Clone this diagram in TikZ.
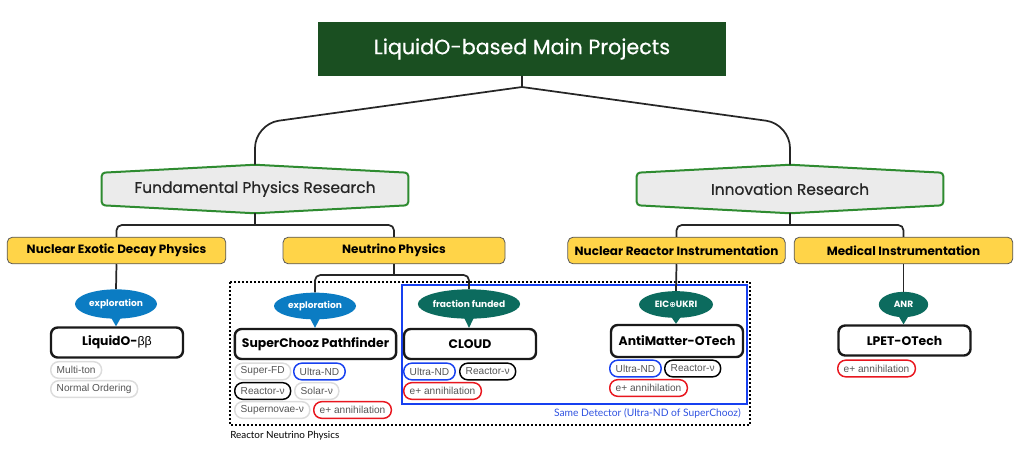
\documentclass[tikz,border=0pt]{standalone}
\usepackage{fontspec}
\setmainfont{Liberation Sans}
\newfontfamily\popfont{Poppins}
\newfontfamily\popmed[FakeBold=0.6]{Poppins}
\newfontfamily\latofont{Lato}
\newfontfamily\dejafont{DejaVu Sans}
\usetikzlibrary{positioning,shapes.geometric,backgrounds}
\definecolor{titlegreen}{HTML}{1A4F21}
\definecolor{hexgreen}{HTML}{2E8B30}
\definecolor{hexgray}{HTML}{EBEBEB}
\definecolor{catyellow}{HTML}{FFD448}
\definecolor{expblue}{HTML}{0B7CC3}
\definecolor{fundteal}{HTML}{0C6B5E}
\definecolor{tagblue}{HTML}{1740F0}
\definecolor{tagred}{HTML}{E8161E}
\definecolor{taggray}{HTML}{DCDCDC}
\definecolor{tagtext}{HTML}{555555}
\definecolor{detblue}{HTML}{2F52E0}
\tikzset{
	conn/.style={line width=1.3pt, draw=black!85},
	titlebox/.style={fill=titlegreen, text=white, minimum width=306pt, minimum height=40.5pt, font=\popmed\fontsize{15.5}{18}\selectfont},
	hexbox/.style={minimum width=229.5pt, minimum height=24pt, text=black!85, font=\popmed\fontsize{11.6}{14}\selectfont},
	hexline/.style={fill=hexgray, draw=hexgreen, line width=1.5pt, rounded corners=2.5pt},
	catbox/.style={fill=catyellow, draw=black!65, line width=0.6pt, rounded corners=4pt, minimum height=20pt, minimum width=164pt, font=\popfont\bfseries\fontsize{9}{11}\selectfont},
	bubble/.style={ellipse, fill=#1, text=white, inner sep=0pt, minimum height=20pt, font=\popfont\bfseries\fontsize{6.8}{8}\selectfont},
	projbox/.style={draw=black!90, line width=1.8pt, rounded corners=5pt, fill=white, minimum width=99pt, minimum height=22.5pt, font=\popfont\bfseries\fontsize{9.3}{11}\selectfont},
	tag/.style={draw=#1, line width=1.1pt, rounded corners=6pt, fill=white, anchor=west, inner xsep=4.5pt, inner ysep=0pt, minimum height=12.5pt, text=tagtext, font=\fontsize{7.6}{9}\selectfont}
}
\begin{document}
\begin{tikzpicture}[x=0.75pt, y=-0.75pt]
	\useasboundingbox (0,0) rectangle (1024,455);
	\node[titlebox] (title) at (522,49) {LiquidO-based Main Projects};
	\node[hexbox] (fund) at (255,189) {Fundamental Physics Research};
	\node[hexbox] (innov) at (790,189) {Innovation Research};
	\begin{scope}[on background layer]
		\foreach \h in {fund,innov}
			\draw[hexline] (\h.north west) -- ([yshift=6pt]\h.north) -- (\h.north east) -- (\h.south east) -- ([yshift=-6pt]\h.south) -- (\h.south west) -- cycle;
	\end{scope}
	\coordinate (split) at (522,87);
	\draw[conn] (title.south) -- (split);
	\draw[conn, rounded corners=18pt] (split) -- (fund.north |- 0,124) -- ([yshift=6pt]fund.north);
	\draw[conn, rounded corners=18pt] (split) -- (innov.north |- 0,124) -- ([yshift=6pt]innov.north);

	\node[catbox] (nuc) at (116.5,250.5) {Nuclear Exotic Decay Physics};
	\node[catbox, minimum width=166.5pt] (neu) at (394,250.5) {Neutrino Physics};
	\node[catbox, minimum width=163pt] (rea) at (676.5,250.5) {Nuclear Reactor Instrumentation};
	\node[catbox] (med) at (903.5,250.5) {Medical Instrumentation};
	\draw[conn] ([yshift=-6pt]fund.south) -- (fund.south |- 0,225);
	\draw[conn, rounded corners=4pt] (nuc.north) -- (nuc.north |- 0,225) -- (neu.north |- 0,225) -- (neu.north);
	\draw[conn] ([yshift=-6pt]innov.south) -- (innov.south |- 0,225);
	\draw[conn, rounded corners=4pt] (rea.north) -- (rea.north |- 0,225) -- (med.north |- 0,225) -- (med.north);

	\draw[line width=1.4pt, dash pattern=on 1.4pt off 1.6pt] (230,282) rectangle (750,425);
	\draw[tagblue, line width=1.1pt] (402,285) rectangle (747,404);
	\node[anchor=west, inner sep=0pt, font=\latofont\fontsize{7.4}{9}\selectfont] (rnp) at (230,436) {Reactor Neutrino Physics};
	\node[anchor=east, inner sep=0pt, text=detblue, font=\latofont\fontsize{7.7}{9}\selectfont] (samedet) at (741,413) {Same Detector (Ultra-ND of SuperChooz)};

	\node[bubble=expblue, minimum width=61.5pt, minimum height=22pt] (expnuc) at (116,304) {exploration};
	\node[bubble=expblue, minimum width=61.5pt] (expneu) at (315,306) {exploration};
	\node[bubble=fundteal, minimum width=74pt, minimum height=22pt] (frac) at (469,304) {fraction funded};
	\node[bubble=fundteal, minimum width=55.5pt] (eic) at (676,304.5) {EIC{\dejafont\fontsize{6}{7}\selectfont ⊕}UKRI};
	\node[bubble=fundteal, minimum width=37pt, minimum height=19pt] (anr) at (903.5,304.5) {ANR};
	\draw[conn] (nuc.south) -- (expnuc.north);
	\draw[conn] (neu.south) -- (neu.south |- 0,275);
	\draw[conn, rounded corners=4pt] (expneu.north) -- (expneu.north |- 0,275) -- (frac.north |- 0,275) -- (frac.north);
	\draw[conn] (rea.south) -- (eic.north);
	\draw[conn] (med.south) -- (anr.north);

	\node[projbox] (lbb) at (117,342.5) {LiquidO-{\normalfont ββ}};
	\node[projbox, minimum width=121pt] (scp) at (315.5,344) {SuperChooz Pathfinder};
	\node[projbox] (cloud) at (470,344) {CLOUD};
	\node[projbox, minimum height=24pt] (amo) at (677,341) {AntiMatter-OTech};
	\node[projbox] (lpet) at (904.5,340.5) {LPET-OTech};
	\foreach \b/\p/\c in {expnuc/lbb/expblue, expneu/scp/expblue, frac/cloud/fundteal, eic/amo/fundteal, anr/lpet/fundteal}
		\fill[\c] ([xshift=-4pt,yshift=1.5pt]\b.south) -- (\b.south |- \p.north) -- ([xshift=4pt,yshift=1.5pt]\b.south) -- cycle;

	\foreach \txt/\col/\x/\y [count=\i] in {Multi-ton/taggray/50/370, Normal Ordering/taggray/50/389,
			Super-FD/taggray/234/371.5, Ultra-ND/tagblue/293/371.5, Reactor-ν/black/234/391, Solar-ν/taggray/294/391,
			Supernovae-ν/taggray/234/410, e+ annihilation/tagred/313/410,
			Ultra-ND/tagblue/403/371.5, Reactor-ν/black/459/371.5, e+ annihilation/tagred/403/391,
			Ultra-ND/tagblue/609/368.5, Reactor-ν/black/664/368.5, e+ annihilation/tagred/609/388,
			e+ annihilation/tagred/837/368.5}
		\node[tag=\col] (tag\i) at (\x,\y) {\txt};
\end{tikzpicture}
\end{document}
